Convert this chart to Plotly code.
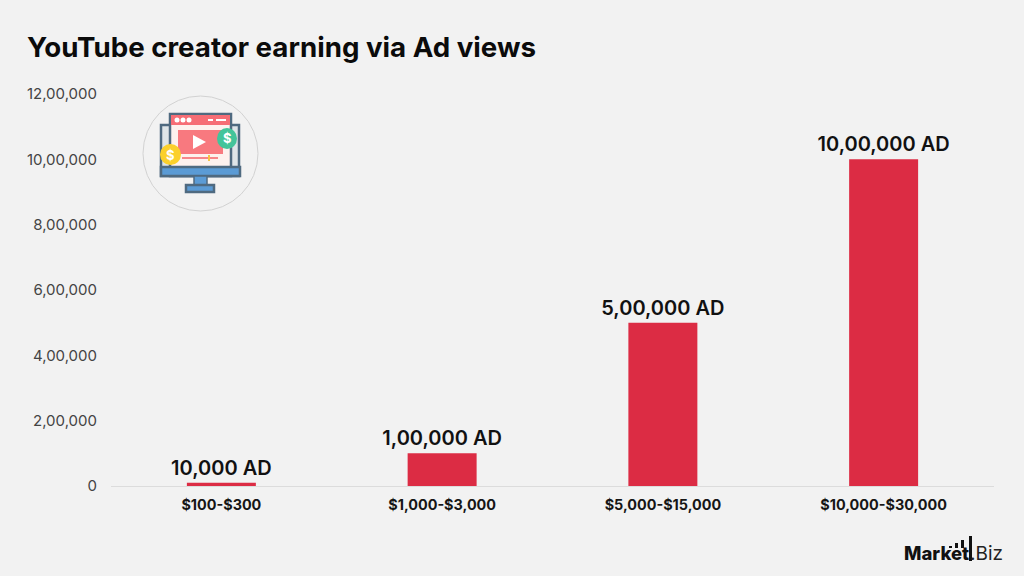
import plotly.graph_objects as go

categories = ["$100-$300", "$1,000-$3,000", "$5,000-$15,000", "$10,000-$30,000"]
ad_views = [10000, 100000, 500000, 1000000]
bar_labels = ["10,000 AD", "1,00,000 AD", "5,00,000 AD", "10,00,000 AD"]
y_ticks = [0, 200000, 400000, 600000, 800000, 1000000, 1200000]
y_tick_labels = ["0", "2,00,000", "4,00,000", "6,00,000", "8,00,000", "10,00,000", "12,00,000"]
title = "YouTube creator earning via Ad views"

W, H = 1024, 576
L, R, T, B = 111, 994, 94, 486
FONT = "Inter"


def px(x):
    return (x - L) / (R - L)


def py(y):
    return (B - y) / (B - T)


shapes = []


def box(x0, y0, x1, y1, fill="rgba(0,0,0,0)", line=None, width=0, kind="rect"):
    shapes.append(dict(type=kind, xref="paper", yref="paper", layer="above",
                       x0=px(x0), x1=px(x1), y0=py(y1), y1=py(y0), fillcolor=fill,
                       line=dict(color=line or "rgba(0,0,0,0)", width=width)))


def poly(points, fill):
    d = "M" + " L".join(f"{px(x):.5f},{py(y):.5f}" for x, y in points) + " Z"
    shapes.append(dict(type="path", xref="paper", yref="paper", layer="above", path=d,
                       fillcolor=fill, line=dict(width=0)))


NAVY = "#4f6a80"
# icon
box(143, 96, 258, 211, line="#d2d2d2", width=1, kind="circle")
box(161, 125, 239, 176, fill="#dfe5e8", line=NAVY, width=2.5)
box(170, 114, 231, 176, fill="#fdf1ee", line=NAVY, width=2.5)
box(171, 115, 230, 125, fill="#f66d75")
for cx in (177, 183, 189):
    box(cx - 2.5, 117.5, cx + 2.5, 122.5, fill="#fff", kind="circle")
box(208, 119, 213, 121, fill="#fff")
box(216, 119, 226, 121, fill="#fff")
box(178, 130, 223, 154, fill="#f8797f")
poly([(193, 135), (193, 149), (206, 142)], "#ffffff")
box(182, 157, 218, 159, fill="#f6868a")
box(208, 155, 210, 161, fill="#f6c544")
box(161, 167, 240, 176, fill="#5b9bd5", line=NAVY, width=2.5)
box(194, 176, 207, 185, fill="#5b9bd5", line=NAVY, width=1.5)
box(186, 185, 214, 192, fill="#5b9bd5", line=NAVY, width=2.5)
box(160, 144, 181, 165, fill="#fbd02c", kind="circle")
box(217, 128, 237, 149, fill="#43c49a", kind="circle")
# logo bars
for x0, y0 in ((949, 546), (955, 543), (961, 540)):
    box(x0, y0, x0 + 3, 548, fill="#111111")
box(969, 536, 972, 561, fill="#111111")

annotations = [
    dict(text=title, xref="paper", yref="paper", x=px(24.5), y=py(47), xanchor="left", yanchor="middle",
         showarrow=False, font=dict(family=FONT, size=27.7, color="#0b0b0b", weight=700)),
    dict(text="$", xref="paper", yref="paper", x=px(170.5), y=py(154.5), xanchor="center", yanchor="middle",
         showarrow=False, font=dict(family=FONT, size=13, color="#ffffff", weight=700)),
    dict(text="$", xref="paper", yref="paper", x=px(227), y=py(138.5), xanchor="center", yanchor="middle",
         showarrow=False, font=dict(family=FONT, size=13, color="#ffffff", weight=700)),
    dict(text="Market", xref="paper", yref="paper", x=px(902), y=py(553), xanchor="left", yanchor="middle",
         showarrow=False, font=dict(family=FONT, size=18.5, color="#111111", weight=800)),
    dict(text=".Biz", xref="paper", yref="paper", x=px(968), y=py(553), xanchor="left", yanchor="middle",
         showarrow=False, font=dict(family=FONT, size=19, color="#222222", weight=400)),
]

fig = go.Figure(go.Bar(
    x=categories, y=ad_views, width=0.3125, marker=dict(color="#dc2c44", line=dict(width=0)),
    text=bar_labels, textposition="outside", cliponaxis=False, constraintext="none",
    textfont=dict(family=FONT, size=20, color="#111111", weight=600),
))
fig.update_layout(
    width=W, height=H, autosize=False, showlegend=False,
    margin=dict(l=L, r=W - R, t=T, b=H - B, pad=0),
    paper_bgcolor="#f2f2f2", plot_bgcolor="#f2f2f2",
    shapes=shapes, annotations=annotations,
    xaxis=dict(type="category", range=[-0.5, 3.5], showgrid=False, showline=True, linecolor="#dcdcdc", linewidth=1,
               ticks="", tickfont=dict(family=FONT, size=14.4, color="#161616", weight=700), ticklabelstandoff=6),
    yaxis=dict(range=[0, 1200000], tickvals=y_ticks, ticktext=y_tick_labels, showgrid=False, zeroline=False,
               ticks="", tickfont=dict(family=FONT, size=15, color="#444444"), ticklabelstandoff=13),
)
fig.write_html("out.html", config=dict(displayModeBar=False),
               post_script="document.body.style.margin='0';document.body.style.background='#f2f2f2';")
